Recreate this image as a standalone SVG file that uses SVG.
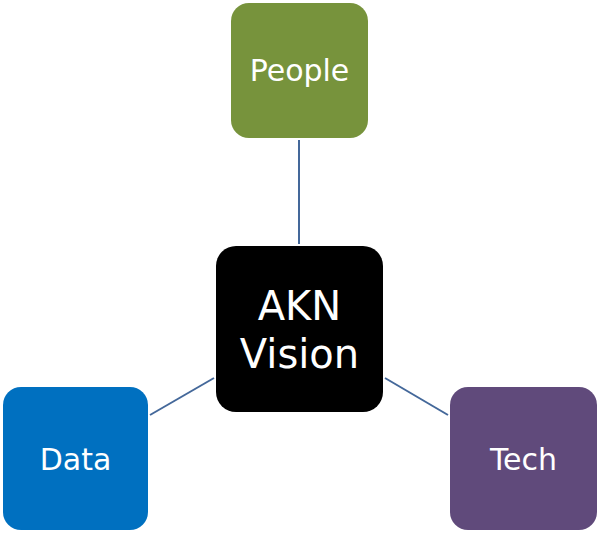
<svg xmlns="http://www.w3.org/2000/svg" width="600" height="535" viewBox="0 0 600 535">
<style>
.t{fill:#fff;font-family:"DejaVu Sans",Verdana,sans-serif;text-anchor:middle}
.c{stroke:#44689A;stroke-width:2;fill:none}
</style>
<rect width="600" height="535" fill="#fff"/>
<g id="connectors">
<line class="c" x1="299" y1="140" x2="299" y2="244"/>
<line class="c" x1="150" y1="415" x2="214" y2="378"/>
<line class="c" x1="385" y1="378" x2="448" y2="415"/>
</g>
<g id="people"><rect x="231" y="3" width="137" height="135" rx="18" fill="#77933C"/><text class="t" x="299.5" y="81" font-size="30">People</text></g>
<g id="center"><rect x="216" y="246" width="167" height="166" rx="20" fill="#000"/><text class="t" x="299.5" y="320" font-size="40">AKN</text><text class="t" x="299.5" y="368" font-size="40">Vision</text></g>
<g id="data"><rect x="3" y="387" width="145" height="143" rx="18" fill="#0070C0"/><text class="t" x="75.5" y="470" font-size="30">Data</text></g>
<g id="tech"><rect x="450" y="387" width="147" height="143" rx="18" fill="#604A7B"/><text class="t" x="523.5" y="470" font-size="30">Tech</text></g>
</svg>
